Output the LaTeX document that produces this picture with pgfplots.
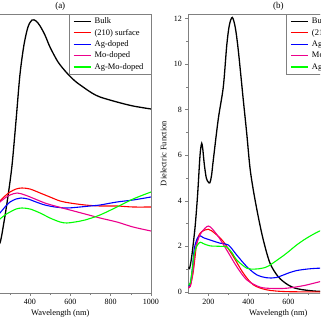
\documentclass[border=0pt]{standalone}
\usepackage{pgfplots}
\pgfplotsset{compat=1.18}
\usepackage{fontspec}
\setmainfont{Liberation Serif}
\definecolor{axgray}{RGB}{128,128,128}
\pgfplotsset{every axis plot post/.append style={legend image code/.code={\draw[##1, line width=1.3pt] (0pt,0pt) -- (17pt,0pt);}}}
\pgfplotsset{
  myaxis/.style={
    scale only axis,
    height=279pt,
    anchor=south west,
    xmin=100, xmax=1000,
    axis line style={axgray, line width=0.6pt},
    tick style={axgray, line width=0.5pt},
    tick align=outside, tick pos=left,
    major tick length=3pt, minor tick length=2pt,
    xtick={200,400,600,800,1000},
    minor x tick num=1,
    ticklabel style={font=\fontsize{8}{9}\selectfont},
    /pgf/number format/assume math mode=true,
    /pgf/number format/1000 sep={},
    label style={font=\fontsize{8.4}{10}\selectfont},
    xlabel={Wavelength (nm)},
    xlabel style={yshift=2.5pt},
    title style={font=\fontsize{9}{10}\selectfont, yshift=-5.5pt},
    legend style={draw=axgray, font=\fontsize{8.5}{10}\selectfont, at={(1,1)}, anchor=north east,
      inner xsep=4pt, inner ysep=1.5pt, row sep=0pt,
      nodes={inner xsep=3.5pt, inner ysep=2pt}},
    legend cell align=left,
    every axis plot/.append style={smooth, tension=0.5, no marks},
  }
}
\begin{document}
\begin{tikzpicture}
\useasboundingbox (0pt,0pt) rectangle (320pt,320pt);
\clip (0pt,0pt) rectangle (320pt,320pt);
% ---------- panel (a)
\begin{axis}[myaxis, at={(-30.5pt,27pt)}, width=181.5pt,
  ymin=0, ymax=5.58, ytick={0,1,2,3,4,5}, yticklabels={},
  xticklabels={,400,600,800,1000}, title={(a)}]
\addplot[black, line width=1.3pt] coordinates {
(225,0.92)(251,1.00)(271,1.42)(291,1.94)(311,2.56)(331,3.46)(350,4.36)(370,4.96)(390,5.32)(410,5.46)(430,5.44)(450,5.34)(474,5.16)(499,4.92)(539,4.62)(583,4.40)(623,4.24)(663,4.12)(707,4.00)(747,3.92)(831,3.82)(911,3.74)(1000,3.68)};
\addlegendentry{Bulk}
\addplot[red, line width=1.1pt] coordinates {
(240,1.80)(251,1.84)(276,1.94)(301,2.02)(331,2.08)(360,2.10)(400,2.08)(450,2.00)(499,1.92)(549,1.84)(598,1.80)(673,1.76)(747,1.74)(831,1.74)(911,1.72)(1000,1.72)};
\addlegendentry{(210) surface}
\addplot[blue, line width=1.1pt] coordinates {
(240,1.55)(251,1.60)(276,1.72)(301,1.82)(331,1.88)(355,1.90)(390,1.88)(430,1.82)(474,1.76)(524,1.72)(583,1.70)(648,1.72)(698,1.74)(747,1.76)(831,1.82)(911,1.86)(1000,1.92)};
\addlegendentry{Ag-doped}
\addplot[magenta, line width=1.1pt] coordinates {
(240,1.78)(251,1.82)(276,1.90)(301,1.96)(336,2.00)(375,1.96)(425,1.88)(474,1.80)(524,1.74)(598,1.66)(673,1.58)(747,1.50)(831,1.42)(911,1.32)(1000,1.24)};
\addlegendentry{Mo-doped}
\addplot[green, line width=1.1pt] coordinates {
(240,1.45)(251,1.48)(276,1.56)(301,1.62)(331,1.68)(360,1.70)(400,1.68)(450,1.60)(499,1.50)(549,1.42)(583,1.40)(623,1.42)(673,1.46)(747,1.56)(831,1.72)(911,1.88)(1000,2.02)};
\addlegendentry{Ag-Mo-doped}
\end{axis}
% ---------- panel (b)
\begin{axis}[myaxis, at={(188.3pt,27pt)}, width=180pt,
  ymin=-0.05, ymax=12.2, ytick={0,2,4,6,8,10,12}, minor y tick num=1,
  ylabel={Dielectric Function}, ylabel style={yshift=0.5pt}, title={(b)}]
\addplot[black, line width=1.3pt] coordinates {
(100,1.1)(106,1.02)(117,1.55)(134,2.86)(147,4.33)(157,5.8)(162,6.3)(167,6.52)(172,6.3)(180,5.6)(190,5.0)(200,4.82)(208,4.79)(216,5.1)(225,5.79)(250,7.6)(275,9.0)(292,10.8)(305,11.7)(320,12.05)(335,11.6)(350,10.6)(375,8.42)(392,6.97)(408,5.48)(425,4.47)(450,3.29)(475,2.28)(508,1.27)(550,0.66)(600,0.3)(649,0.13)(760,0.02)(1000,0)};
\addlegendentry{Bulk}
\addplot[red, line width=1.1pt] coordinates {
(100,0.2)(110,0.25)(125,0.9)(140,2.0)(150,2.43)(167,2.64)(200,2.75)(233,2.57)(275,2.21)(325,1.55)(375,0.82)(425,0.31)(492,0.09)(592,0.01)(800,0.0)(1000,0.0)};
\addlegendentry{(210) surface}
\addplot[blue, line width=1.1pt] coordinates {
(100,0.26)(110,0.35)(120,1.0)(130,1.9)(145,2.35)(160,2.46)(175,2.38)(208,2.28)(258,2.14)(300,2.06)(342,1.62)(392,1.11)(442,0.75)(492,0.62)(540,0.63)(608,0.85)(658,0.96)(759,1.04)(1000,1.05)};
\addlegendentry{Ag-doped}
\addplot[magenta, line width=1.1pt] coordinates {
(100,0.2)(110,0.25)(125,1.0)(134,1.84)(158,2.5)(183,2.79)(200,2.89)(217,2.79)(250,2.43)(292,1.84)(342,1.11)(392,0.53)(458,0.21)(520,0.15)(592,0.16)(680,0.28)(759,0.45)(880,0.7)(1000,0.95)};
\addlegendentry{Mo-doped}
\addplot[green, line width=1.1pt] coordinates {
(100,0.3)(110,0.4)(120,1.0)(130,1.7)(145,2.05)(160,2.18)(175,2.12)(208,2.02)(258,2.0)(292,1.97)(320,1.7)(342,1.4)(392,1.04)(433,1.0)(470,1.04)(500,1.13)(558,1.48)(592,1.70)(642,2.06)(692,2.36)(759,2.68)(850,2.95)(1000,3.1)};
\addlegendentry{Ag-Mo-doped}
\end{axis}
\end{tikzpicture}
\end{document}
